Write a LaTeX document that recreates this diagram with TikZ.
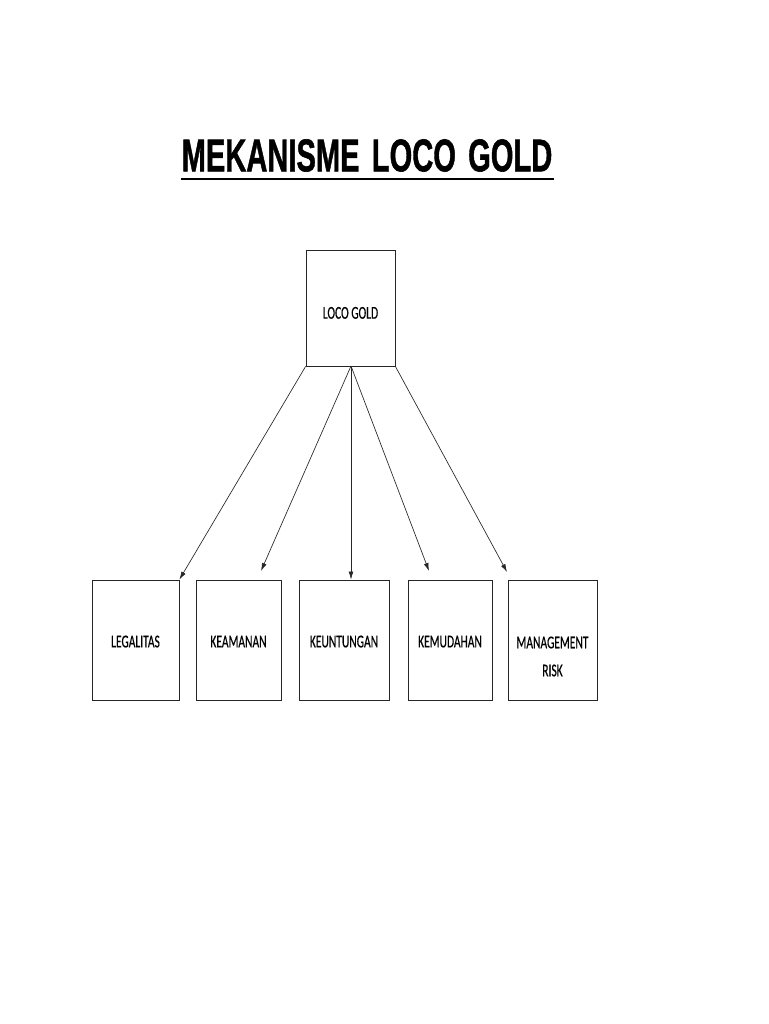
\documentclass[tikz,border=0pt]{standalone}
\usepackage{fontspec}
\usepackage{graphicx}
\newfontfamily\titlefont{Liberation Sans Bold}[FakeBold=1.4]
\newfontfamily\boxfont{Carlito}[FakeBold=0.6]
\usetikzlibrary{positioning,arrows.meta}
\newcommand{\sq}[1]{\scalebox{0.64}[1]{#1}}

\begin{document}
\begin{tikzpicture}[
    x=0.75pt, y=-0.75pt,
    box/.style={rectangle, draw=black!85, line width=0.6pt, minimum height=90pt, inner sep=0pt,
                font=\boxfont\fontsize{13.5}{21}\selectfont, text centered, text height=11pt, text depth=0pt},
    label text/.style={font=\boxfont\fontsize{13.5}{21}\selectfont, align=center, inner sep=0pt},
    arrow/.style={-{Latex[length=6pt,width=3.6pt]}, line width=0.5pt, black!85}
]
    \useasboundingbox (0,0) rectangle (768,1024);

    % title
    \node[inner sep=0pt] (title) at (367,155.5)
        {\resizebox{278pt}{24pt}{\titlefont MEKANISME\hspace{0.42em}LOCO\hspace{0.42em}GOLD}};
    \draw[line width=1.5pt] (181,179) -- (554,179);

    % top box
    \node[box, minimum width=66.75pt, minimum height=87pt, text height=16pt] (loco) at (350.5,308) {\sq{LOCO GOLD}};

    % bottom row
    \node[box, minimum width=65.25pt] (legalitas) at (135.5,640) {\sq{LEGALITAS}};
    \node[box, minimum width=63.75pt] (keamanan) at (238.5,640) {\sq{KEAMANAN}};
    \node[box, minimum width=67.5pt] (keuntungan) at (344,640) {\sq{KEUNTUNGAN}};
    \node[box, minimum width=63pt] (kemudahan) at (450,640) {\sq{KEMUDAHAN}};
    \node[box, minimum width=66.75pt] (risk) at (552.5,640) {};

    \node[label text] (risktext) at (552.5,656.5) {\sq{MANAGEMENT}\\\sq{RISK}};

    % arrow ends
    \coordinate (loco bottom) at (351,366);
    \coordinate (end2) at (261,571);
    \coordinate (end4) at (429,571);
    \coordinate (end5) at (507,572);

    \draw[arrow] (loco.south west) -- (legalitas.north east);
    \draw[arrow] (loco bottom) -- (end2);
    \draw[arrow] (loco bottom) -- (keuntungan.north -| loco bottom);
    \draw[arrow] (loco bottom) -- (end4);
    \draw[arrow] (loco.south east) -- (end5);
\end{tikzpicture}
\end{document}
